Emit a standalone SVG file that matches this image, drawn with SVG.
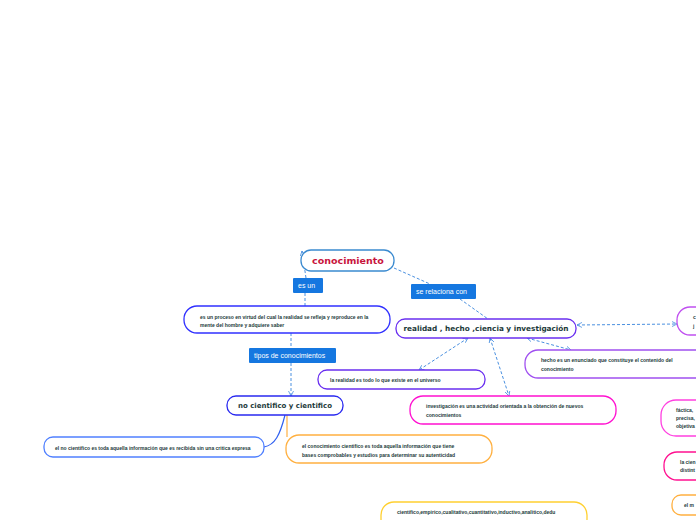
<svg xmlns="http://www.w3.org/2000/svg" width="696" height="520" viewBox="0 0 696 520">
<style>
text{font-family:"DejaVu Sans","Liberation Sans",sans-serif;font-weight:bold;fill:#1c3a3a}
.n{fill:#fff;stroke-width:1.3}
.s{font-size:5px;font-family:"Liberation Sans",Arial,sans-serif}
.lb{fill:#1577e0}
.lt{fill:#fff;font-weight:normal;font-size:7px;font-family:"Liberation Sans",Arial,sans-serif}
.c{fill:none;stroke:#4a90e0;stroke-width:1;stroke-dasharray:3,2}
</style>
<defs>
<marker id="a" viewBox="0 0 6 6" refX="5" refY="3" markerWidth="6" markerHeight="6" orient="auto-start-reverse"><path d="M0,0.5L5,3L0,5.5" fill="none" stroke="#4a90e0" stroke-width="0.8"/></marker>
</defs>
<rect width="696" height="520" fill="#fff"/>
<g id="connectors">
<path class="c" d="M306,278L302,251" marker-end="url(#a)"/>
<path class="c" d="M305,293L305,306"/>
<path class="c" d="M394,268L430,284"/>
<path class="c" d="M460,299L488,319"/>
<path class="c" d="M291,333L291,348"/>
<path class="c" d="M291,363L291,396" marker-end="url(#a)"/>
<path class="c" d="M468,338L419,370" marker-start="url(#a)" marker-end="url(#a)"/>
<path class="c" d="M490,338L509,396" marker-start="url(#a)" marker-end="url(#a)"/>
<path class="c" d="M527,338L571,350" marker-start="url(#a)" marker-end="url(#a)"/>
<path class="c" d="M577,325L677,324" marker-start="url(#a)" marker-end="url(#a)"/>
<path d="M285,415C280,435 275,445 264,447" fill="none" stroke="#3060f0" stroke-width="1.2"/>
<path d="M287,415L287,437" fill="none" stroke="#ffb040" stroke-width="1.2"/>
</g>
<g id="conocimiento"><rect class="n" x="301" y="250" width="93" height="21" rx="10" stroke="#3a8ad0"/><text x="348" y="264" text-anchor="middle" font-size="9.5" style="fill:#c8143c">conocimiento</text></g>
<g id="esun"><rect class="lb" x="293" y="278" width="30" height="15" rx="1"/><text class="lt" x="298" y="288">es un</text></g>
<g id="serelaciona"><rect class="lb" x="411" y="284" width="65" height="15" rx="1"/><text class="lt" x="416" y="294">se relaciona con</text></g>
<g id="proceso"><rect class="n" x="184" y="306" width="206" height="27" rx="13" stroke="#3030ff"/><text class="s" x="200" y="319">es un proceso en virtud del cual la realidad se refleja y reproduce  en la</text><text class="s" x="200" y="327">mente del hombre y adquiere saber</text></g>
<g id="tipos"><rect class="lb" x="249" y="348" width="87" height="15" rx="1"/><text class="lt" x="254" y="358">tipos de conocimientos</text></g>
<g id="realidadhecho"><rect class="n" x="396" y="319" width="180" height="19" rx="9" stroke="#6a2ff0"/><text x="486" y="331" text-anchor="middle" font-size="7.3">realidad , hecho ,ciencia y investigación</text></g>
<g id="topright"><rect class="n" x="677" y="307" width="60" height="28" rx="13" stroke="#c050f0"/><text class="s" x="693" y="319">c</text><text class="s" x="693" y="328">j</text></g>
<g id="hecho"><rect class="n" x="525" y="350" width="200" height="28" rx="13" stroke="#a050f0"/><text class="s" x="541" y="362">hecho es un enunciado que constituye el contenido del</text><text class="s" x="541" y="371">conocimiento</text></g>
<g id="larealidad"><rect class="n" x="318" y="370" width="167" height="19" rx="9" stroke="#6a2ff0"/><text class="s" x="330" y="382">la realidad es todo lo que existe en el universo</text></g>
<g id="investigacion"><rect class="n" x="410" y="396" width="206" height="28" rx="13" stroke="#ff10d0"/><text class="s" x="426" y="408">investigación es una actividad orientada a la obtención de nuevos</text><text class="s" x="426" y="417">conocimientos</text></g>
<g id="nocientifico"><rect class="n" x="227" y="396" width="116" height="19" rx="9" stroke="#2a2af0"/><text x="285" y="408" text-anchor="middle" font-size="7">no cientifico y cientifico</text></g>
<g id="elno"><rect class="n" x="44" y="437" width="220" height="20" rx="9" stroke="#5080ff"/><text class="s" x="55" y="450">el no cientifico es toda aquella información que es recibida sin una critica  expresa</text></g>
<g id="elcon"><rect class="n" x="286" y="435" width="206" height="28" rx="13" stroke="#ffb040"/><text class="s" x="302" y="448">el conocimiento cientifico es toda aquella información que tiene</text><text class="s" x="302" y="457">bases comprobables y estudios para determinar su autenticidad</text></g>
<g id="tiposlist"><rect class="n" x="381" y="502" width="206" height="30" rx="13" stroke="#ffd030"/><text class="s" x="397" y="514">cientifico,empirico,cualitativo,cuantitativo,inductivo,analitico,dedu</text></g>
<g id="factica"><rect class="n" x="661" y="400" width="60" height="36" rx="15" stroke="#ff40e0"/><text class="s" x="676" y="412">fáctica,</text><text class="s" x="676" y="420">precisa,</text><text class="s" x="676" y="428">objetiva</text></g>
<g id="laciencia"><rect class="n" x="664" y="452" width="60" height="28" rx="13" stroke="#ff1090"/><text class="s" x="680" y="464">la cien</text><text class="s" x="680" y="472">distint</text></g>
<g id="elm"><rect class="n" x="672" y="495" width="60" height="20" rx="9" stroke="#ffb040"/><text class="s" x="684" y="507">el m</text></g>
</svg>
